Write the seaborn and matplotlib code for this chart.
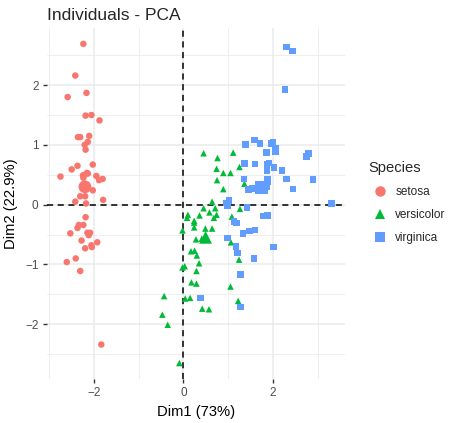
import pandas as pd
import matplotlib
matplotlib.use("Agg")
import matplotlib.pyplot as plt
from matplotlib.lines import Line2D
from matplotlib.ticker import MultipleLocator
import seaborn as sns

# PCA individual coordinates, one pair of lists per species
setosa_dim1 = [-2.23, -2.41, -2.16, -2.58, -2.18, -2.05, -1.87, -2.35, -2.30, -2.10,
               -2.13, -2.20, -2.18, -2.02, -2.36, -2.49, -2.74, -2.13, -2.24, -2.20,
               -1.94, -1.88, -1.80, -2.23, -2.15, -2.02, -2.30, -2.19, -2.41, -1.79,
               -2.17, -2.18, -2.33, -2.23, -2.36, -2.52, -2.14, -2.08, -2.11, -2.27,
               -1.92, -2.05, -2.04, -2.19, -2.40, -2.60, -2.30, -1.83, -2.25, -2.15]
setosa_dim2 = [2.69, 2.16, 1.87, 1.80, 1.49, 1.50, 1.41, 1.13, 1.13, 1.15,
               1.05, 1.00, 0.92, 0.67, 0.65, 0.59, 0.47, 0.52, 0.49, 0.50,
               0.48, 0.41, 0.43, 0.45, 0.53, 0.24, 0.14, 0.14, 0.05, 0.08,
               0.02, -0.21, -0.34, -0.34, -0.39, -0.48, -0.47, -0.47, -0.51, -0.60,
               -0.63, -0.68, -0.71, -0.73, -0.90, -0.96, -1.11, -2.34, 0.32, 0.28]

versicolor_dim1 = [0.45, 0.76, 1.11, 1.25, 0.74, 0.89, 1.05, 0.75, 1.36, 0.89,
                   0.64, 0.45, 0.71, 1.26, 0.58, 0.10, 0.74, 0.36, 0.68, 0.08,
                   0.24, 1.08, 0.24, 0.49, 0.64, -0.02, 0.28, 0.41, 0.17, 0.25,
                   0.30, 0.35, -0.02, 0.03, 0.29, 0.18, 0.29, 1.05, -0.43, 0.04,
                   0.15, 0.42, 0.57, 1.22, -0.47, -0.35, -0.09, 1.06, 1.24, 0.24]
versicolor_dim2 = [0.86, 0.78, 0.87, 0.63, 0.60, 0.53, 0.53, 0.41, 0.35, 0.26,
                   0.05, -0.06, -0.06, -0.07, -0.13, -0.17, -0.17, -0.18, -0.22, -0.22,
                   -0.27, -0.20, -0.38, -0.40, -0.40, -0.43, -0.58, -0.57, -0.78, -0.77,
                   -0.85, -0.98, -1.05, -1.03, -1.11, -1.30, -1.32, -1.37, -1.53, -1.57,
                   -1.56, -1.74, -1.75, -1.61, -1.84, -2.01, -2.65, -0.63, -0.92, -0.30]

virginica_dim1 = [1.38, 1.36, 1.35, 1.45, 0.95, 1.02, 0.98, 1.42, 1.13, 1.18,
                  1.33, 0.98, 1.17, 1.21, 1.27, 0.38, 1.27, 2.30, 2.43, 2.26,
                  1.58, 1.71, 1.95, 2.00, 2.05, 2.05, 1.85, 2.79, 2.74, 1.60,
                  1.86, 1.91, 2.02, 1.86, 2.20, 1.88, 1.88, 2.30, 2.89, 1.48,
                  1.53, 1.85, 2.44, 3.30, 1.79, 1.87, 1.47, 1.60, 2.01, 1.57]
virginica_dim2 = [1.01, 0.69, 0.43, 0.25, 0.03, 0.07, -0.02, -0.05, -0.28, -0.31,
                  -0.48, -0.56, -0.70, -0.81, -1.17, -1.56, -1.71, 2.64, 2.57, 1.93,
                  1.08, 1.02, 1.02, 1.05, 0.94, 0.88, 0.87, 0.86, 0.81, 0.68,
                  0.68, 0.70, 0.62, 0.57, 0.57, 0.42, 0.39, 0.43, 0.42, 0.26,
                  0.27, 0.30, 0.26, 0.02, -0.19, -0.18, -0.44, -0.42, -0.71, -0.90]

species_names = ['setosa', 'versicolor', 'virginica']
palette = {'setosa': '#F8766D', 'versicolor': '#00BA38', 'virginica': '#619CFF'}
markers = {'setosa': 'o', 'versicolor': '^', 'virginica': 's'}

df = pd.concat([
    pd.DataFrame({'Dim1': setosa_dim1, 'Dim2': setosa_dim2, 'Species': 'setosa'}),
    pd.DataFrame({'Dim1': versicolor_dim1, 'Dim2': versicolor_dim2, 'Species': 'versicolor'}),
    pd.DataFrame({'Dim1': virginica_dim1, 'Dim2': virginica_dim2, 'Species': 'virginica'}),
], ignore_index=True)
centers = df.groupby('Species', as_index=False)[['Dim1', 'Dim2']].mean()

sns.set_theme(style='white')
plt.rcParams['font.family'] = ['Liberation Sans', 'DejaVu Sans']

fig = plt.figure(figsize=(4.6, 4.23), dpi=100)
ax = fig.add_axes([0.102, 0.104, 0.648, 0.830])

sns.scatterplot(data=df, x='Dim1', y='Dim2', hue='Species', style='Species',
                hue_order=species_names, palette=palette, markers=markers,
                s=22, linewidth=0, legend=False, ax=ax, zorder=3)
sns.scatterplot(data=centers, x='Dim1', y='Dim2', hue='Species', style='Species',
                hue_order=species_names, palette=palette, markers=markers,
                s=85, linewidth=0, legend=False, ax=ax, zorder=4)

ax.axhline(0, color='black', linestyle=(0, (4, 3)), linewidth=1.1, zorder=2)
ax.axvline(0, color='black', linestyle=(0, (4, 3)), linewidth=1.1, zorder=2)

# ggplot style 5% expansion
xr = df['Dim1'].max() - df['Dim1'].min()
yr = df['Dim2'].max() - df['Dim2'].min()
ax.set_xlim(df['Dim1'].min() - 0.05 * xr, df['Dim1'].max() + 0.05 * xr)
ax.set_ylim(df['Dim2'].min() - 0.05 * yr, df['Dim2'].max() + 0.05 * yr)

ax.xaxis.set_major_locator(MultipleLocator(2))
ax.xaxis.set_minor_locator(MultipleLocator(1))
ax.yaxis.set_major_locator(MultipleLocator(1))
ax.yaxis.set_minor_locator(MultipleLocator(0.5))
ax.grid(which='major', color='#EBEBEB', linewidth=1.1, zorder=0)
ax.grid(which='minor', color='#EBEBEB', linewidth=0.6, zorder=0)
ax.set_axisbelow(True)
for sp in ax.spines.values():
    sp.set_visible(False)

ax.tick_params(which='major', length=3, width=1, color='#333333',
               labelsize=8.5, labelcolor='#4D4D4D', pad=3, bottom=True, left=True)
ax.tick_params(which='minor', length=0)

ax.set_xlabel('Dim1 (73%)', fontsize=10.6, color='black', labelpad=4)
ax.set_ylabel('Dim2 (22.9%)', fontsize=10.6, color='black', labelpad=5)
ax.set_title('Individuals - PCA', loc='left', fontsize=12.5, pad=6)

handles = [Line2D([], [], linestyle='', marker=markers[s], color=palette[s],
                  markersize=7.5, markeredgewidth=0, label=s) for s in species_names]
leg = fig.legend(handles=handles, title='Species', loc='upper left',
                 bbox_to_anchor=(0.790, 0.630), frameon=False, fontsize=8.5,
                 title_fontsize=10.6, labelspacing=0.93, handlelength=2.0,
                 handletextpad=0.3, borderaxespad=0)
leg._legend_box.align = 'left'

fig.savefig('out.png', dpi=100)
